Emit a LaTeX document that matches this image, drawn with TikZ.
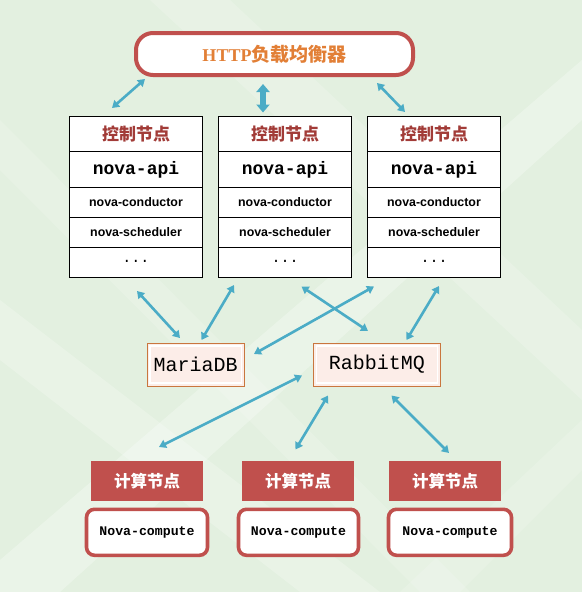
\documentclass[tikz,border=0pt]{standalone}
\usepackage{fontspec}
\setmainfont{Liberation Serif}
\setsansfont{Liberation Sans}
\setmonofont{Liberation Mono}
\newfontfamily\cjk{Noto Sans CJK SC}
\usetikzlibrary{arrows.meta}
\definecolor{bgc}{HTML}{E3F0E0}
\definecolor{redc}{HTML}{C0504D}
\definecolor{hdrc}{HTML}{A23C38}
\definecolor{arr}{HTML}{4BACC6}
\definecolor{orangec}{HTML}{E27F36}
\definecolor{dbline}{HTML}{C9763E}
\definecolor{dbfill}{HTML}{FCEDE8}
\tikzset{
  lb/.style={draw=redc, line width=4pt, fill=white, rounded corners=17pt, minimum width=277pt, minimum height=42pt, inner sep=0pt},
  row/.style={draw=black, line width=1.1pt, fill=white, minimum width=133pt, inner sep=0pt},
  hdr/.style={row, minimum height=35.6pt, text=hdrc, font=\cjk\bfseries\fontsize{17}{17}\selectfont},
  api/.style={row, minimum height=35.6pt, font=\ttfamily\bfseries\fontsize{18}{18}\selectfont},
  svc/.style={row, minimum height=30pt, font=\sffamily\bfseries\fontsize{12.4}{13}\selectfont},
  db/.style={draw=dbline, line width=1.2pt, fill=dbfill, minimum height=43pt, inner sep=0pt, font=\ttfamily\fontsize{20}{20}\selectfont},
  chdr/.style={fill=redc, minimum width=112pt, minimum height=40pt, inner sep=0pt, text=white, font=\cjk\bfseries\fontsize{16.5}{17}\selectfont},
  cbox/.style={draw=redc, line width=3.6pt, fill=white, rounded corners=8pt, minimum height=46pt, inner sep=0pt, font=\ttfamily\bfseries\fontsize{13.2}{13}\selectfont},
  link/.style={draw=arr, line width=2.6pt, {Triangle[length=7pt,width=8.5pt]}-{Triangle[length=7pt,width=8.5pt]}},
  biglink/.style={draw=arr, line width=5.5pt, {Triangle[length=8pt,width=13pt]}-{Triangle[length=8pt,width=13pt]}}
}
\newcommand\ctrlcol[2]{%
  \node[hdr] (#1h) at (#2,134) {控制节点};
  \node[api] (#1a) at (#2,169.5) {nova-api};
  \node[svc] (#1c) at (#2,202.3) {nova-conductor};
  \node[svc] (#1s) at (#2,232.3) {nova-scheduler};
  \node[svc, minimum height=29.7pt, font=\ttfamily\fontsize{15}{15}\selectfont] (#1d) at (#2,262.2) {\raisebox{1pt}{...}};
}
\begin{document}
\begin{tikzpicture}[x=1pt,y=-1pt]
% background
\fill[bgc] (0,0) rectangle (582,592);
\fill[white,opacity=0.28] (0,560) -- (0,592) -- (60,592) -- (582,120) -- (582,60) -- cycle;
\fill[white,opacity=0.22] (0,300) -- (0,360) -- (300,592) -- (380,592) -- cycle;
\fill[white,opacity=0.18] (150,0) -- (230,0) -- (582,330) -- (582,400) -- cycle;
\fill[white,opacity=0.15] (0,120) -- (0,170) -- (420,592) -- (470,592) -- cycle;
\fill[white,opacity=0.15] (582,420) -- (582,470) -- (460,592) -- (400,592) -- cycle;
\useasboundingbox (0,0) rectangle (582,592);

% load balancer
\node[lb] (lb) at (274.5,54) {{\bfseries\fontsize{18}{18}\selectfont\color{orangec}HTTP}{\cjk\bfseries\fontsize{19}{19}\selectfont\color{orangec}负载均衡器}};

% controller nodes
\ctrlcol{ca}{136}
\ctrlcol{cb}{285}
\ctrlcol{cc}{434}

% databases
\node[db, minimum width=97pt] (maria) at (195.7,364.6) {MariaDB};
\node[db, minimum width=127pt] (rabbit) at (377,364.6) {RabbitMQ};
\foreach \n in {maria,rabbit}{
  \draw[white, line width=1.6pt] ([shift={(3.5,3.5)}]\n.north west) rectangle ([shift={(-3.5,-3.5)}]\n.south east);
}

% compute nodes
\node[chdr] (h1) at (147,481) {计算节点};
\node[chdr] (h2) at (298,481) {计算节点};
\node[chdr] (h3) at (445,481) {计算节点};
\node[cbox, minimum width=121pt] (n1) at (147,532.3) {Nova-compute};
\node[cbox, minimum width=120pt] (n2) at (298.5,532.3) {Nova-compute};
\node[cbox, minimum width=123pt] (n3) at (450,532.3) {Nova-compute};

% connector end points
\coordinate (a1s) at (145,79); \coordinate (a1e) at (112,108);
\coordinate (a2s) at (263,84); \coordinate (a2e) at (263,112.5);
\coordinate (a3s) at (377,83); \coordinate (a3e) at (405,112);
\coordinate (b1s) at (137,291); \coordinate (b1e) at (180,338);
\coordinate (b2s) at (234,285); \coordinate (b2e) at (201.5,340);
\coordinate (b3s) at (301.5,286.5); \coordinate (b3e) at (368,331);
\coordinate (b4s) at (374,286.5); \coordinate (b4e) at (254,354);
\coordinate (b5s) at (439,286); \coordinate (b5e) at (406.5,340);
\coordinate (c1s) at (302,375.5); \coordinate (c1e) at (159,447);
\coordinate (c2s) at (328,395.5); \coordinate (c2e) at (295.5,449.5);
\coordinate (c3s) at (391.5,395.5); \coordinate (c3e) at (449,453);

\draw[link] (a1s) -- (a1e);
\draw[biglink] (a2s) -- (a2e);
\draw[link] (a3s) -- (a3e);
\draw[link] (b1s) -- (b1e);
\draw[link] (b2s) -- (b2e);
\draw[link] (b3s) -- (b3e);
\draw[link] (b4s) -- (b4e);
\draw[link] (b5s) -- (b5e);
\draw[link] (c1s) -- (c1e);
\draw[link] (c2s) -- (c2e);
\draw[link] (c3s) -- (c3e);
\end{tikzpicture}
\end{document}
